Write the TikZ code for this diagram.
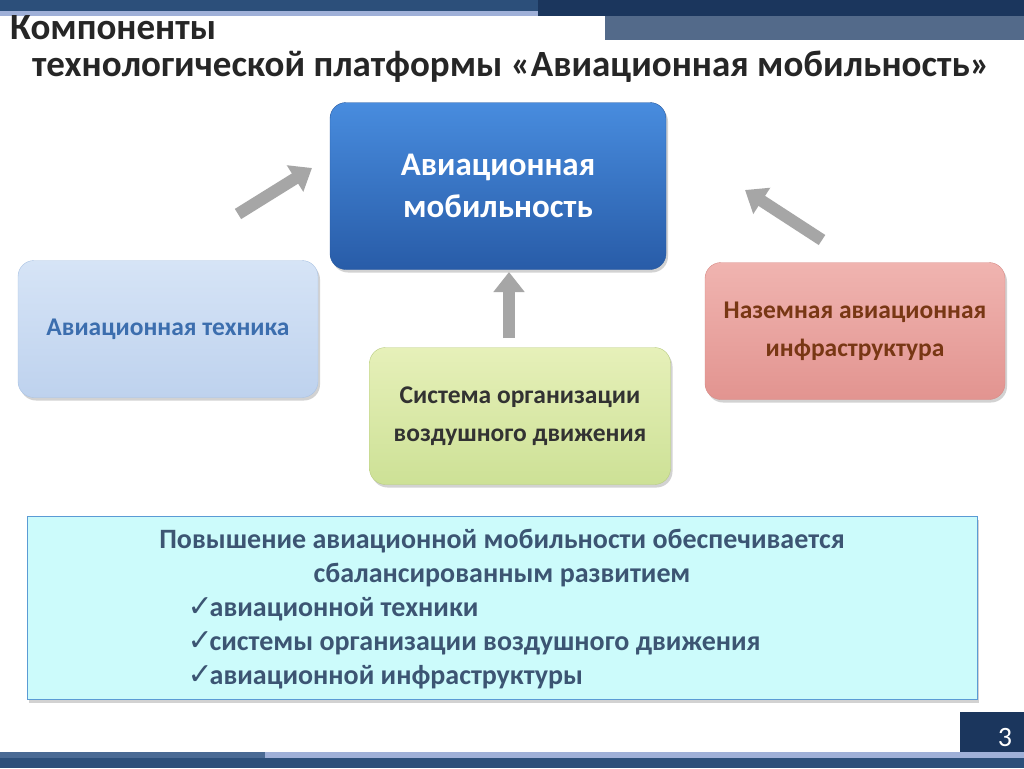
\documentclass[tikz,border=0pt]{standalone}
\usepackage{fontspec}
\setmainfont{Carlito}
\newfontfamily\chk{DejaVu Sans}
\usetikzlibrary{arrows.meta,shadows}
\definecolor{barA}{HTML}{2C4F7A}
\definecolor{barB}{HTML}{1B365D}
\definecolor{barL}{HTML}{9FB0D8}
\definecolor{barG}{HTML}{536A8A}
\definecolor{barD}{HTML}{4A6A94}
\definecolor{ttl}{HTML}{262626}
\tikzset{
 box/.style={rounded corners=16pt,minimum width=300pt,minimum height=137pt,align=center,font=\bfseries\fontsize{25.5}{38}\selectfont,drop shadow={opacity=0.35,shadow xshift=2pt,shadow yshift=-3pt}},
 garrow/.style={line width=12pt,draw=gray!70,-{Triangle[width=30pt,length=20pt]}}
}
\newcommand{\ck}{{\chk\fontsize{30}{30}\selectfont ✓}\hspace{-3pt}}
\begin{document}
\begin{tikzpicture}[x=1pt,y=-1pt]
\useasboundingbox (0,0) rectangle (1024,768);
\fill[white] (0,0) rectangle (1024,768);
% top bars
\fill[barA] (0,0) rectangle (538,12);
\fill[barB] (538,0) rectangle (1024,16);
\fill[barL] (0,11) rectangle (538,16);
\fill[barG] (605,16) rectangle (1024,40);
% bottom bars
\fill[barD] (0,752) rectangle (265,758);
\fill[barL] (265,752) rectangle (1024,758);
\fill[barA] (0,758) rectangle (1024,768);
\fill[barB] (960,712) rectangle (1024,752);
\node[text=white,font=\fontsize{28}{30}\selectfont] (pg) at (1005,737) {3};
% title
\node[anchor=base west,text=ttl,font=\bfseries\fontsize{37}{40}\selectfont,inner sep=0pt] (t1) at (10,40) {Компоненты};
\node[anchor=base west,text=ttl,font=\bfseries\fontsize{37}{40}\selectfont,inner sep=0pt] (t2) at (32,76) {технологической платформы «Авиационная мобильность»};
% boxes
\node[box,minimum width=336pt,minimum height=167pt,top color={rgb,255:red,72;green,140;blue,222},bottom color={rgb,255:red,40;green,92;blue,168},draw={rgb,255:red,40;green,90;blue,160},text=white,font=\bfseries\fontsize{33}{42}\selectfont] (am) at (498,186) {Авиационная\\мобильность};
\node[box,top color={rgb,255:red,214;green,228;blue,246},bottom color={rgb,255:red,190;green,210;blue,238},draw={rgb,255:red,170;green,195;blue,228},text={rgb,255:red,60;green,110;blue,174}] (at) at (168,329) {Авиационная техника};
\node[box,minimum width=301pt,top color={rgb,255:red,230;green,240;blue,185},bottom color={rgb,255:red,205;green,225;blue,150},draw={rgb,255:red,185;green,205;blue,130},text={rgb,255:red,50;green,50;blue,50}] (so) at (520,416) {Система организации\\воздушного движения};
\node[box,top color={rgb,255:red,240;green,180;blue,176},bottom color={rgb,255:red,226;green,148;blue,144},draw={rgb,255:red,215;green,140;blue,135},text={rgb,255:red,120;green,55;blue,20}] (ni) at (855,331) {Наземная авиационная\\инфраструктура};
% arrows
\coordinate (a1s) at (238,214); \coordinate (a1e) at (312,168);
\coordinate (a2s) at (822,240); \coordinate (a2e) at (745,190);
\coordinate (a3s) at (509,338); \coordinate (a3e) at (509,272);
\draw[garrow] (a1s) -- (a1e);
\draw[garrow] (a2s) -- (a2e);
\draw[garrow] (a3s) -- (a3e);
% bottom text box
\node[draw={rgb,255:red,91;green,155;blue,213},line width=1pt,fill={rgb,255:red,204;green,251;blue,251},minimum width=950pt,minimum height=183pt,drop shadow={opacity=0.35,shadow xshift=2pt,shadow yshift=-3pt}] (tb) at (502,608) {};
\begin{scope}[every node/.style={text={rgb,255:red,60;green,85;blue,115},font=\bfseries\fontsize{28}{30}\selectfont}]
\node (l1) at (502,541) {Повышение авиационной мобильности обеспечивается};
\node (l2) at (502,575) {сбалансированным развитием};
\node[anchor=west] (l3) at (184,609) {\ck авиационной техники};
\node[anchor=west] (l4) at (184,643) {\ck системы организации воздушного движения};
\node[anchor=west] (l5) at (184,677) {\ck авиационной инфраструктуры};
\end{scope}
\end{tikzpicture}
\end{document}
